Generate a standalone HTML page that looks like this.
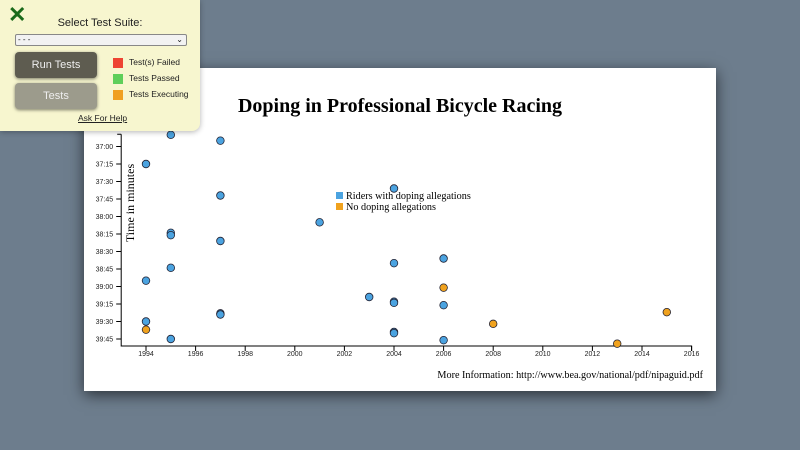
<!DOCTYPE html>
<html><head><meta charset="utf-8"><style>
body{margin:0;width:800px;height:450px;background:#6d7d8d;overflow:hidden;position:relative;font-family:"Liberation Sans",sans-serif}
#card{position:absolute;left:84px;top:68px;width:632px;height:323px;background:#fff;box-shadow:0 4px 14px rgba(0,0,0,.6)}
#panel{position:absolute;left:0;top:0;width:200px;height:131px;background:#f7f6cf;border-radius:0 0 8px 0;box-shadow:0 1px 6px rgba(0,0,0,.3);font-size:11px;color:#222}
.btn{position:absolute;left:15px;width:82px;height:26px;border-radius:4px;color:#eee;font-size:11px;text-align:center;line-height:26px;box-shadow:0 1px 3px rgba(0,0,0,.5)}
.lg{position:absolute;left:113px;font-size:8.5px}
.lg span{display:inline-block;width:10px;height:10px;vertical-align:middle;margin-right:6px}
</style></head><body>
<div id="card">
<svg width="632" height="323" id="svg" style="position:absolute;left:0;top:0">
<text x="316" y="44" text-anchor="middle" font-family="Liberation Serif,serif" font-weight="bold" font-size="20">Doping in Professional Bicycle Racing</text>
<text transform="translate(50,135) rotate(-90)" text-anchor="middle" font-family="Liberation Serif,serif" font-size="12">Time in minutes</text>
<text x="619" y="310" text-anchor="end" font-family="Liberation Serif,serif" font-size="10.2">More Information: http://www.bea.gov/national/pdf/nipaguid.pdf</text>
<g>
<rect x="252" y="124" width="7" height="7" fill="#4ba3e0"/>
<text x="262" y="131" font-family="Liberation Serif,serif" font-size="10.2">Riders with doping allegations</text>
<rect x="252" y="135" width="7" height="7" fill="#f0a21e"/>
<text x="262" y="142" font-family="Liberation Serif,serif" font-size="10.2">No doping allegations</text>
</g>
<g id="ax"></g><g id="pts"></g>
</svg>
</div>
<div id="panel">
<div style="position:absolute;left:8px;top:2px;font-size:22px;font-weight:bold;color:#1a6a1a">✕</div>
<div style="position:absolute;left:0;width:200px;top:17px;text-align:center;font-size:11px">Select Test Suite:</div>
<div style="position:absolute;left:15px;top:34px;width:168px;height:10px;border:1px solid #888;border-radius:2px;background:#f2f2f2;font-size:8px;line-height:10px;padding-left:2px">- - -<span style="position:absolute;right:3px">⌄</span></div>
<div class="btn" style="top:52px;background:#5e5c50">Run Tests</div>
<div class="btn" style="top:83px;background:#9c9b8c">Tests</div>
<div class="lg" style="top:57px"><span style="background:#ee4433"></span>Test(s) Failed</div>
<div class="lg" style="top:73px"><span style="background:#5fcf5a"></span>Tests Passed</div>
<div class="lg" style="top:89px"><span style="background:#f0a020"></span>Tests Executing</div>
<div style="position:absolute;left:78px;top:113px;font-size:8.5px;text-decoration:underline">Ask For Help</div>
</div>
<script>
const years=[1995,1997,1994,1997,2004,2001,1995,1995,1997,2004,2006,1995,1994,2003,2004,2004,2006,1997,1997,1994,2004,2004,1995,2006,1994,2006,2008,2013,2015];
const seconds=[2210,2215,2235,2262,2256,2285,2294,2296,2301,2320,2316,2324,2335,2349,2353,2354,2356,2363,2364,2370,2379,2380,2385,2386,2377,2341,2372,2389,2362];
const doping=[1,1,1,1,1,1,1,1,1,1,1,1,1,1,1,1,1,1,1,1,1,1,1,1,0,0,0,0,0];
const xTicks=[1994,1996,1998,2000,2002,2004,2006,2008,2010,2012,2014,2016];
const yTicks=[2220,2235,2250,2265,2280,2295,2310,2325,2340,2355,2370,2385];
const NS="http://www.w3.org/2000/svg";
const X=y=>37.2+(y-1993)*24.8;
const Y=s=>78.5+(s-2220)*1.1667;
function mk(t,a,p){const e=document.createElementNS(NS,t);for(const k in a)e.setAttribute(k,a[k]);p.appendChild(e);return e;}
const ax=document.getElementById('ax'),pts=document.getElementById('pts');
const x0=X(1993),y0=Y(2391),yTop=Y(2209.5);
let l=mk('path',{d:`M${x0},${yTop}H${x0-4}M${x0},${yTop}V${y0}H${X(2016)}V${y0+5}`,stroke:'#000',fill:'none'},ax);

xTicks.forEach(t=>{const x=X(t);
 const tk=mk('line',{x1:x,x2:x,y1:y0,y2:y0+5,stroke:'#000'},ax);
 
 const tx=mk('text',{x:x,y:y0+10,'text-anchor':'middle','font-size':7,fill:'#222'},ax);tx.textContent=t;
 });
yTicks.forEach(s=>{const y=Y(s);
 const tk=mk('line',{x1:x0-5,x2:x0,y1:y,y2:y,stroke:'#000'},ax);
 
 const tx=mk('text',{x:x0-8,y:y+2.5,'text-anchor':'end','font-size':7,fill:'#222'},ax);
 tx.textContent=Math.floor(s/60)+':'+String(s%60).padStart(2,'0');
 });
years.forEach((yr,i)=>{
 const c=mk('circle',{cx:X(yr),cy:Y(seconds[i]),r:3.8,fill:doping[i]?'#4ba3e0':'#f0a21e',stroke:'#223','stroke-width':0.8},pts);
 });
</script>
</body></html>
